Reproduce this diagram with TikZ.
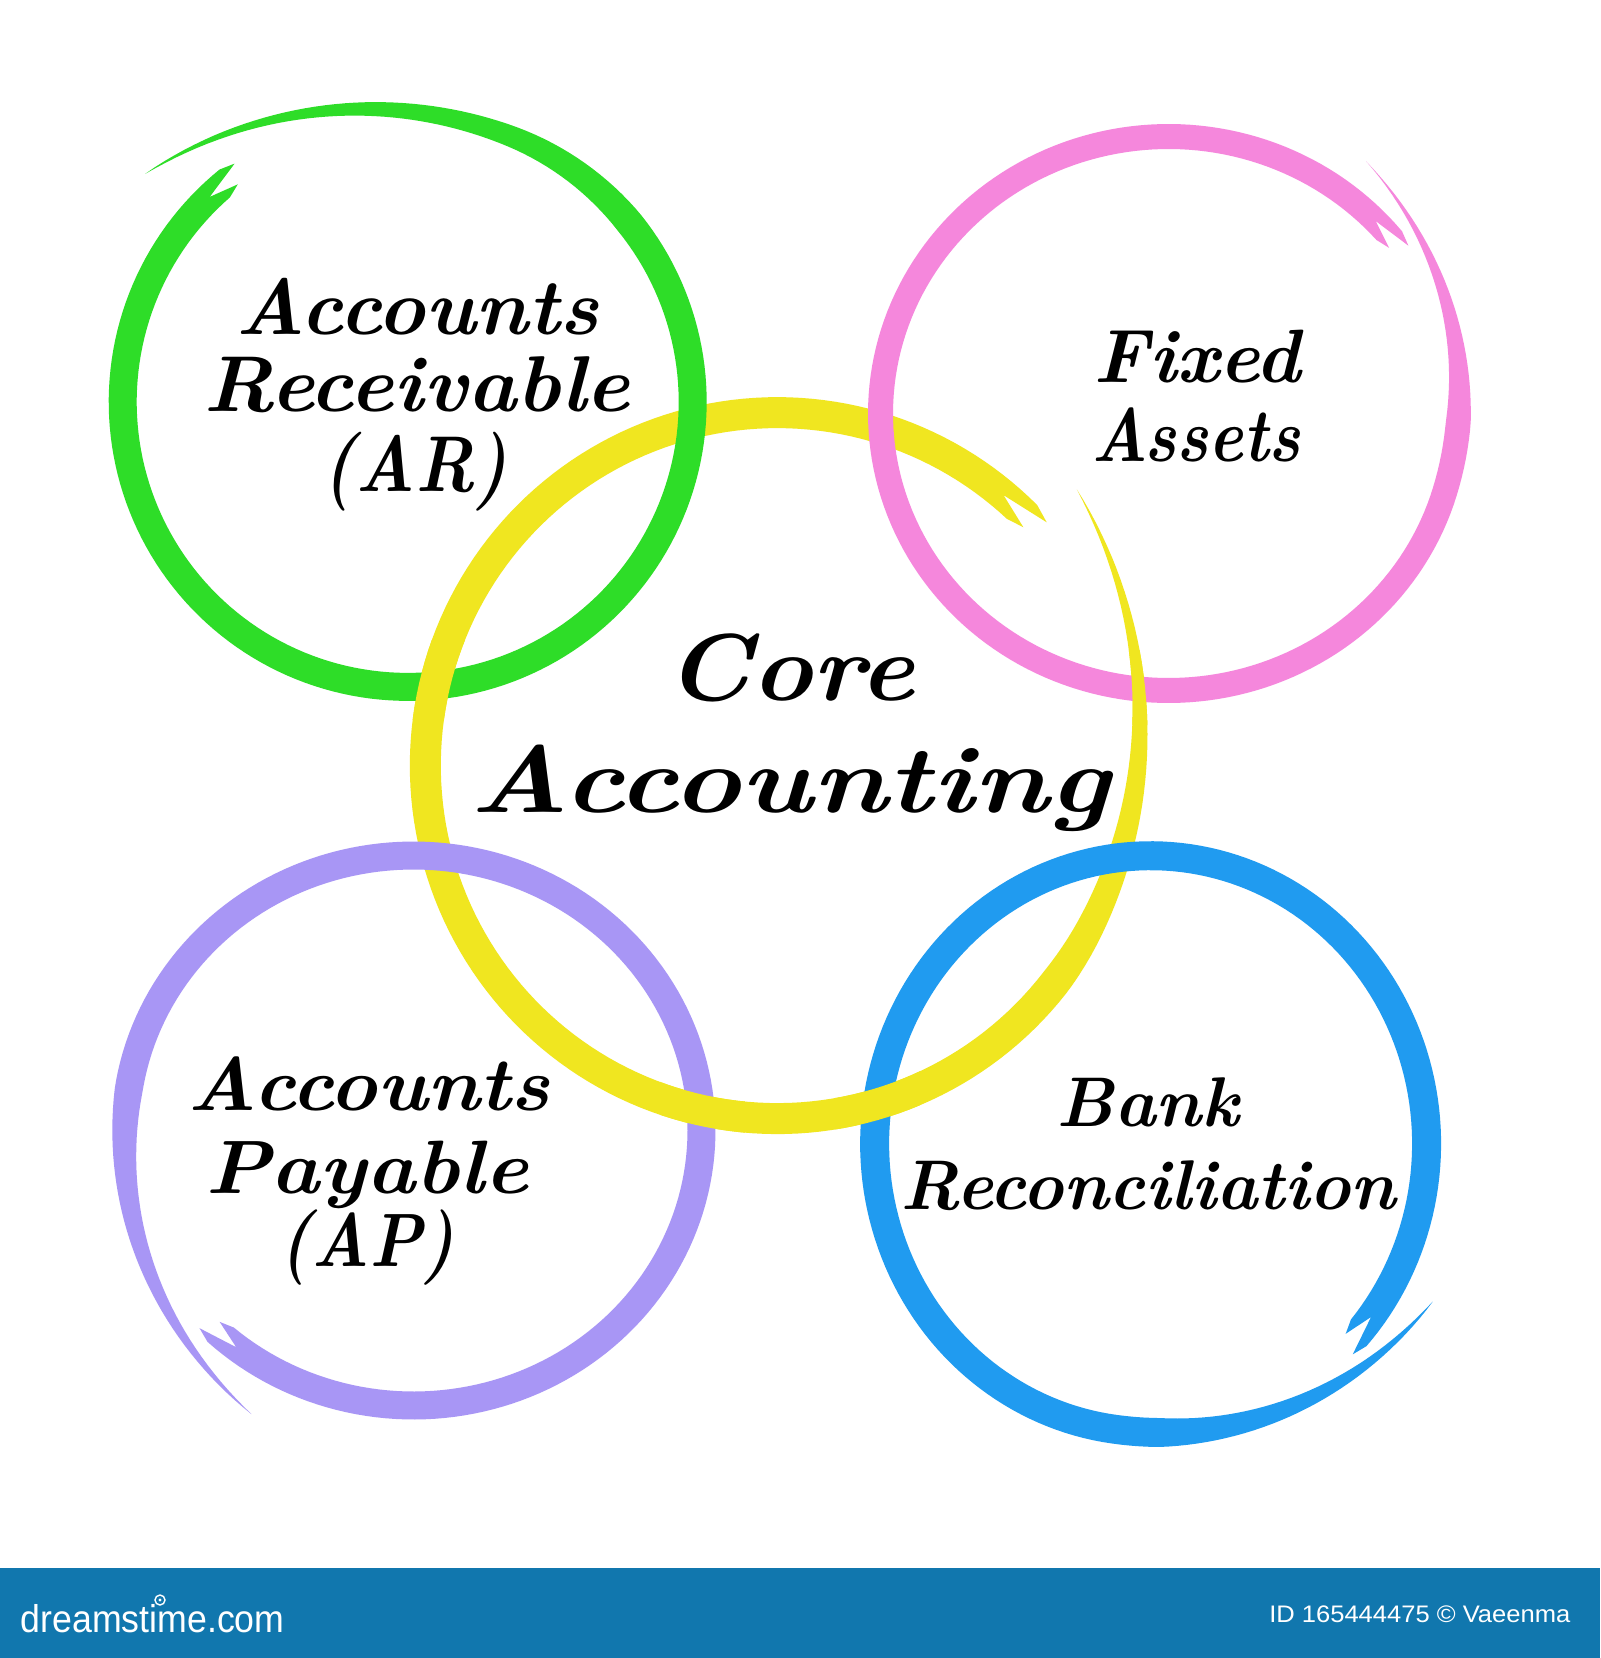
\documentclass[tikz,border=0pt]{standalone}
\usepackage{fontspec}
\usepackage{graphicx}
\newfontfamily\barfont{Liberation Sans}
\definecolor{cgreen}{RGB}{46,221,40}
\definecolor{cpink}{RGB}{245,135,220}
\definecolor{cyellow}{RGB}{240,230,32}
\definecolor{cpurple}{RGB}{168,150,245}
\definecolor{cblue}{RGB}{32,155,240}
\definecolor{cbar}{RGB}{17,119,174}
\newlength\fitlen
\newcommand\fitw[2]{\settowidth{\fitlen}{#2}\pgfmathsetmacro\fitfac{#1/\fitlen}\scalebox{\fitfac}[1]{#2}}
\newcommand\setbrush[9]{\def\BRcx{#1}\def\BRcy{#2}\def\BRrx{#3}\def\BRry{#4}\def\BRa{#5}\def\BRb{#6}\def\BRw{#7}\def\BRF{#8}\def\BRT{#9}}
\def\BRL{70}\def\BRp{1}
\newcommand\brushstroke[1]{%
  \fill[#1]
    plot[domain=\BRa+3:\BRb, samples=200, variable=\t]
      ({\BRcx+(\BRrx*brR(\t)+brW(\t)/2)*cos(\t)}, {\BRcy-(\BRry*brR(\t)+brW(\t)/2)*sin(\t)})
    -- plot[domain=\BRb:\BRa+5, samples=200, variable=\t]
      ({\BRcx+(\BRrx*brR(\t)-brW(\t)/2)*cos(\t)}, {\BRcy-(\BRry*brR(\t)-brW(\t)/2)*sin(\t)})
    -- ({\BRcx+(\BRrx-0.32*\BRw)*cos(\BRa+2)}, {\BRcy-(\BRry-0.32*\BRw)*sin(\BRa+2)})
    -- ({\BRcx+\BRrx*cos(\BRa+8)}, {\BRcy-\BRry*sin(\BRa+8)})
    -- ({\BRcx+(\BRrx+0.34*\BRw)*cos(\BRa)}, {\BRcy-(\BRry+0.34*\BRw)*sin(\BRa)})
    -- cycle;}
\tikzset{
  lab/.style={inner sep=0pt, anchor=base, text=black},
  fAR/.style={lab, font=\fontsize{22.5}{22.5}\selectfont\bfseries\itshape},
  fAP/.style={lab, font=\fontsize{21.5}{21.5}\selectfont\bfseries\itshape},
  fFA/.style={lab, font=\fontsize{21.5}{21.5}\selectfont\bfseries\itshape},
  fBR/.style={lab, font=\fontsize{20}{20}\selectfont\bfseries\itshape},
  fCA/.style={lab, font=\fontsize{27}{27}\selectfont\bfseries\itshape},
  bartext/.style={inner sep=0pt, text=white},
}
\begin{document}
\begin{tikzpicture}[x=0.01cm, y=-0.01cm,
  declare function={
    brR(\t)=1+\BRF*(max(0,\t-\BRb+\BRL)/\BRL)*(max(0,\t-\BRb+\BRL)/\BRL);
    brW(\t)=\BRw*(min(1,max(0.0001,(\BRb-\t)/\BRT)))^\BRp;
  }]
\useasboundingbox (0,0) rectangle (1600,1658);
\fill[white] (0,0) rectangle (1600,1658);

% yellow (core)
\setbrush{777.3}{765.6}{352}{353}{42}{402.6}{31}{0.156}{80}\def\BRp{0.9}
\brushstroke{cyellow}
% green
\setbrush{407.7}{401.9}{285}{285}{126}{499}{28}{0.22}{100}\def\BRp{0.8}
\brushstroke{cgreen}
% pink
\setbrush{1168.5}{413.5}{288}{277}{36}{413}{25}{0.14}{55}\def\BRp{1.2}
\brushstroke{cpink}
% purple
\setbrush{413.5}{1130.5}{288}{275}{224}{601.4}{28}{0.175}{70}\def\BRp{0.9}
\brushstroke{cpurple}
% blue
\setbrush{1150.6}{1143.7}{276}{288}{315}{691.8}{29}{0.16}{60}\def\BRp{0.9}
\brushstroke{cblue}
% yellow on top at some crossings
\begin{scope}
\clip (390,640) rectangle (480,720) (660,1060) rectangle (745,1150)
      (835,1040) rectangle (920,1145) (1095,650) rectangle (1165,725);
\setbrush{777.3}{765.6}{352}{353}{42}{402.6}{31}{0.156}{80}\def\BRp{0.9}
\brushstroke{cyellow}
\end{scope}

% labels
\node[fAR] (ar1) at (417,334) {\fitw{103.3}{Accounts}};
\node[fAR] (ar2) at (417,412) {\fitw{121.2}{Receivable}};
\node[fAR] (ar3) at (415,491) {\fitw{52.6}{(AR)}};

\node[fFA] (fa1) at (1197,383) {\fitw{58.6}{Fixed}};
\node[fFA] (fa2) at (1196,461) {\fitw{59.5}{Assets}};

\node[fCA] (ca1) at (790,700) {\fitw{70.6}{Core}};
\node[fCA] (ca2) at (790,812) {\fitw{182.1}{Accounting}};

\node[fAP] (ap1) at (369,1110) {\fitw{103}{Accounts}};
\node[fAP] (ap2) at (367,1193) {\fitw{91.9}{Payable}};
\node[fAP] (ap3) at (367,1266) {\fitw{49.8}{(AP)}};

\node[fBR] (br1) at (1148,1126) {\fitw{51.8}{Bank}};
\node[fBR] (br2) at (1148,1209) {\fitw{140.8}{Reconciliation}};

% bottom bar
\fill[cbar] (0,1568) rectangle (1600,1658);
\node[bartext, anchor=base west, font=\barfont\fontsize{11}{11}\selectfont] (logo) at (20,1632) {\fitw{75}{dreamstime.com}};
\draw[white, line width=0.4pt] (160,1600) circle (5);
\fill[white] (160,1600) circle (1.6);
\node[bartext, anchor=base east, font=\barfont\fontsize{6.8}{6.8}\selectfont] (idtxt) at (1571,1622) {\fitw{85.6}{ID 165444475 © Vaeenma}};
\end{tikzpicture}
\end{document}
